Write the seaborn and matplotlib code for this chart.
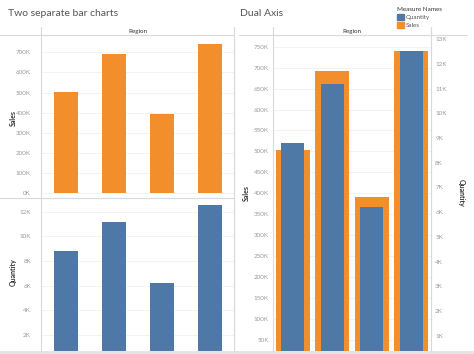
import seaborn as sns
import matplotlib.pyplot as plt
from matplotlib.lines import Line2D
from matplotlib.patches import Rectangle, Patch
from matplotlib.ticker import FuncFormatter

regions = ["Central", "East", "South", "West"]
sales = [503000, 691000, 392000, 739000]
quantity = [8800, 11200, 6220, 12520]

orange = "#F28E2B"
blue = "#4E79A7"

sns.set_theme(style="white")
plt.rcParams['font.family'] = ['Lato', 'DejaVu Sans']

W, H = 474, 354
fig = plt.figure(figsize=(W / 100, H / 100), dpi=100)


def rect(x0, y0, x1, y1):
    # pixel box (top-left origin) -> figure coords
    return [x0 / W, 1 - y1 / H, (x1 - x0) / W, (y1 - y0) / H]


def hline(x0, x1, y, c="#d9d9d9"):
    fig.add_artist(Line2D([x0 / W, x1 / W], [1 - y / H, 1 - y / H], color=c, lw=0.8))


def vline(x, y0, y1, c="#d9d9d9"):
    fig.add_artist(Line2D([x / W, x / W], [1 - y0 / H, 1 - y1 / H], color=c, lw=0.8))


def label(x, y, s, rot=90):
    fig.text(x / W, 1 - y / H, s, fontsize=5, fontweight="bold", color="#333333",
             rotation=rot, ha="center", va="center")


kfmt = FuncFormatter(lambda v, p: f"{v / 1000:.0f}K")


def style(ax, ticks, pad):
    ax.set_yticks(ticks)
    ax.yaxis.set_major_formatter(kfmt)
    ax.tick_params(axis="y", labelsize=4.5, labelcolor="#9a9a9a", length=0, pad=pad)
    ax.tick_params(axis="x", length=0, labelbottom=False)
    ax.set_xlabel("")
    ax.set_ylabel("")
    ax.grid(axis="y", color="#f1f1f1", lw=0.6)
    ax.set_axisbelow(True)
    for s in ax.spines.values():
        s.set_visible(False)


bar_kw = dict(saturation=1, linewidth=0, edgecolor="none")

# --- left: two separate bar charts ---
ax1 = fig.add_axes(rect(42, 36, 234, 197.5))
sns.barplot(x=regions, y=sales, color=orange, width=0.48, ax=ax1, **bar_kw)
ax1.set_ylim(-22000, 781000)
style(ax1, range(0, 700001, 100000), 8)

ax2 = fig.add_axes(rect(42, 198, 234, 351))
sns.barplot(x=regions, y=quantity, color=blue, width=0.48, ax=ax2, **bar_kw)
ax2.set_ylim(700, 13110)
style(ax2, range(2000, 12001, 2000), 8)

# --- right: dual axis ---
ax3 = fig.add_axes(rect(273, 36, 431, 351))
sns.barplot(x=regions, y=sales, color=orange, width=0.86, ax=ax3, **bar_kw)
ax3.set_ylim(23700, 775500)
style(ax3, range(50000, 750001, 50000), 3)

ax4 = ax3.twinx()
sns.barplot(x=regions, y=quantity, color=blue, width=0.57, ax=ax4, **bar_kw)
ax4.set_ylim(380, 13130)
style(ax4, range(1000, 13001, 1000), 3)
ax4.grid(False)
ax4.tick_params(axis="y", labelleft=False, labelright=True)

# axis titles
label(13, 118, "Sales")
label(13, 272, "Quantity")
label(246, 193, "Sales")
label(461, 193, "Quantity", rot=270)

# titles and headers
fig.text(8 / W, 1 - 14 / H, "Two separate bar charts", fontsize=7.5, color="#555555", va="center")
fig.text(240 / W, 1 - 14 / H, "Dual Axis", fontsize=7.5, color="#555555", va="center")
fig.text(138 / W, 1 - 31 / H, "Region", fontsize=4.5, color="#333333", ha="center", va="center")
fig.text(352 / W, 1 - 31 / H, "Region", fontsize=4.5, color="#333333", ha="center", va="center")

# panel lines
hline(0, 234, 34.5)
hline(239, 467, 34.5)
hline(0, 234, 197.7)
vline(41, 27, 351)
vline(234, 27, 351)
vline(273, 27, 351)
vline(431, 27, 351)
fig.add_artist(Rectangle((0, 0), 1, 3.5 / H, transform=fig.transFigure, color="#e4e4e4", lw=0))

# legend
handles = [Patch(color=blue, label="Quantity"), Patch(color=orange, label="Sales")]
leg = fig.legend(handles=handles, title="Measure Names", loc="upper left",
                 bbox_to_anchor=(393 / W, 1 - 3 / H), frameon=False, fontsize=4.5,
                 title_fontsize=4.5, handlelength=1.0, handleheight=1.2,
                 handletextpad=0.4, labelspacing=0.25, borderpad=0.2, alignment="left")
for t in leg.get_texts():
    t.set_color("#555555")
leg.get_title().set_color("#333333")

fig.savefig("out.png", dpi=100)
